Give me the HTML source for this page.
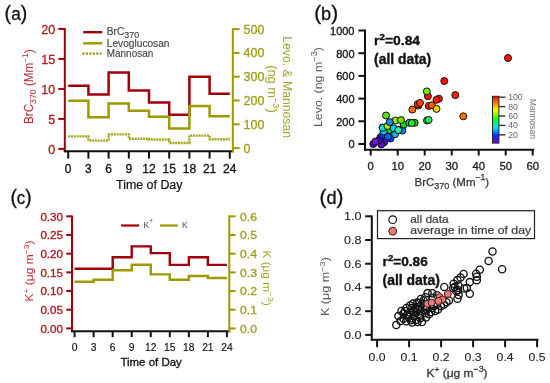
<!DOCTYPE html><html><head><meta charset="utf-8"><style>html,body{margin:0;padding:0;background:#fff;width:550px;height:383px;overflow:hidden}svg{display:block;will-change:transform}text{font-family:"Liberation Sans",sans-serif}</style></head><body>
<svg width="550" height="383" viewBox="0 0 550 383">
<rect width="550" height="383" fill="#fff"/>
<text x="4.6" y="19.6" font-size="17.5" fill="#111" stroke="#111" stroke-width="0.3" textLength="22.6" lengthAdjust="spacingAndGlyphs"><tspan font-size="20">(</tspan>a<tspan font-size="20">)</tspan></text>
<path d="M68.20,85.80 L88.40,85.80 L88.40,94.40 L108.60,94.40 L108.60,72.60 L128.80,72.60 L128.80,90.40 L149.00,90.40 L149.00,102.60 L169.20,102.60 L169.20,114.80 L189.40,114.80 L189.40,76.70 L209.60,76.70 L209.60,93.70 L229.80,93.70" fill="none" stroke="#a0000a" stroke-width="2.5" stroke-linejoin="miter" stroke-linecap="butt"/>
<path d="M68.20,100.70 L88.40,100.70 L88.40,117.20 L108.60,117.20 L108.60,103.40 L128.80,103.40 L128.80,110.80 L149.00,110.80 L149.00,116.70 L169.20,116.70 L169.20,128.40 L189.40,128.40 L189.40,106.10 L209.60,106.10 L209.60,116.20 L229.80,116.20" fill="none" stroke="#9c9a00" stroke-width="2.5" stroke-linejoin="miter" stroke-linecap="butt"/>
<path d="M68.20,136.40 L88.40,136.40 L88.40,140.60 L108.60,140.60 L108.60,134.40 L128.80,134.40 L128.80,138.80 L149.00,138.80 L149.00,139.50 L169.20,139.50 L169.20,143.00 L189.40,143.00 L189.40,135.60 L209.60,135.60 L209.60,139.30 L229.80,139.30" fill="none" stroke="#a2a614" stroke-width="2.4" stroke-linejoin="miter" stroke-linecap="butt" stroke-dasharray="2.0,0.8"/>
<line x1="83.20" y1="32.20" x2="102.30" y2="32.20" stroke="#a0000a" stroke-width="2.4" />
<line x1="83.20" y1="43.30" x2="102.30" y2="43.30" stroke="#9c9a00" stroke-width="2.4" />
<line x1="82.30" y1="53.60" x2="101.50" y2="53.60" stroke="#9a9a00" stroke-width="2.4" stroke-dasharray="2.2,1.3"/>
<text x="106.8" y="34.6" font-size="10.2" fill="#444" stroke="#444" stroke-width="0.15">BrC<tspan font-size="8.8" dy="3">370</tspan></text>
<text x="106.80" y="46.80" font-size="10.2" fill="#444" text-anchor="start" font-weight="normal" textLength="62.7" lengthAdjust="spacingAndGlyphs" stroke="#444" stroke-width="0.15">Levoglucosan</text>
<text x="106.80" y="56.70" font-size="10.2" fill="#444" text-anchor="start" font-weight="normal" textLength="46.4" lengthAdjust="spacingAndGlyphs" stroke="#444" stroke-width="0.15">Mannosan</text>
<line x1="64.80" y1="28.00" x2="64.80" y2="152.30" stroke="#a0000a" stroke-width="2" />
<line x1="58.30" y1="148.90" x2="64.80" y2="148.90" stroke="#a0000a" stroke-width="2" />
<text x="55.20" y="153.50" font-size="12.5" fill="#b3151b" text-anchor="end" font-weight="normal" stroke="#b3151b" stroke-width="0.3">0</text>
<line x1="58.30" y1="118.90" x2="64.80" y2="118.90" stroke="#a0000a" stroke-width="2" />
<text x="55.20" y="123.50" font-size="12.5" fill="#b3151b" text-anchor="end" font-weight="normal" stroke="#b3151b" stroke-width="0.3">5</text>
<line x1="58.30" y1="88.90" x2="64.80" y2="88.90" stroke="#a0000a" stroke-width="2" />
<text x="55.20" y="93.50" font-size="12.5" fill="#b3151b" text-anchor="end" font-weight="normal" stroke="#b3151b" stroke-width="0.3">10</text>
<line x1="58.30" y1="58.90" x2="64.80" y2="58.90" stroke="#a0000a" stroke-width="2" />
<text x="55.20" y="63.50" font-size="12.5" fill="#b3151b" text-anchor="end" font-weight="normal" stroke="#b3151b" stroke-width="0.3">15</text>
<line x1="58.30" y1="28.90" x2="64.80" y2="28.90" stroke="#a0000a" stroke-width="2" />
<text x="55.20" y="33.50" font-size="12.5" fill="#b3151b" text-anchor="end" font-weight="normal" stroke="#b3151b" stroke-width="0.3">20</text>
<line x1="63.80" y1="151.30" x2="233.80" y2="151.30" stroke="#111111" stroke-width="2" />
<line x1="68.20" y1="151.30" x2="68.20" y2="158.60" stroke="#111111" stroke-width="2" />
<text x="68.20" y="172.90" font-size="12.0" fill="#111111" text-anchor="middle" font-weight="normal" stroke="#111111" stroke-width="0.3">0</text>
<line x1="88.40" y1="151.30" x2="88.40" y2="158.60" stroke="#111111" stroke-width="2" />
<text x="88.40" y="172.90" font-size="12.0" fill="#111111" text-anchor="middle" font-weight="normal" stroke="#111111" stroke-width="0.3">3</text>
<line x1="108.60" y1="151.30" x2="108.60" y2="158.60" stroke="#111111" stroke-width="2" />
<text x="108.60" y="172.90" font-size="12.0" fill="#111111" text-anchor="middle" font-weight="normal" stroke="#111111" stroke-width="0.3">6</text>
<line x1="128.80" y1="151.30" x2="128.80" y2="158.60" stroke="#111111" stroke-width="2" />
<text x="128.80" y="172.90" font-size="12.0" fill="#111111" text-anchor="middle" font-weight="normal" stroke="#111111" stroke-width="0.3">9</text>
<line x1="149.00" y1="151.30" x2="149.00" y2="158.60" stroke="#111111" stroke-width="2" />
<text x="149.00" y="172.90" font-size="12.0" fill="#111111" text-anchor="middle" font-weight="normal" stroke="#111111" stroke-width="0.3">12</text>
<line x1="169.20" y1="151.30" x2="169.20" y2="158.60" stroke="#111111" stroke-width="2" />
<text x="169.20" y="172.90" font-size="12.0" fill="#111111" text-anchor="middle" font-weight="normal" stroke="#111111" stroke-width="0.3">15</text>
<line x1="189.40" y1="151.30" x2="189.40" y2="158.60" stroke="#111111" stroke-width="2" />
<text x="189.40" y="172.90" font-size="12.0" fill="#111111" text-anchor="middle" font-weight="normal" stroke="#111111" stroke-width="0.3">18</text>
<line x1="209.60" y1="151.30" x2="209.60" y2="158.60" stroke="#111111" stroke-width="2" />
<text x="209.60" y="172.90" font-size="12.0" fill="#111111" text-anchor="middle" font-weight="normal" stroke="#111111" stroke-width="0.3">21</text>
<line x1="229.80" y1="151.30" x2="229.80" y2="158.60" stroke="#111111" stroke-width="2" />
<text x="229.80" y="172.90" font-size="12.0" fill="#111111" text-anchor="middle" font-weight="normal" stroke="#111111" stroke-width="0.3">24</text>
<text x="116.00" y="188.50" font-size="12" fill="#111111" text-anchor="start" font-weight="normal" textLength="66.5" lengthAdjust="spacingAndGlyphs" stroke="#111111" stroke-width="0.2">Time of Day</text>
<line x1="232.80" y1="28.20" x2="232.80" y2="152.30" stroke="#9c9a00" stroke-width="2" />
<line x1="232.80" y1="148.10" x2="239.60" y2="148.10" stroke="#9c9a00" stroke-width="2" />
<text x="243.50" y="152.50" font-size="12.5" fill="#9fa018" text-anchor="start" font-weight="normal" stroke="#9fa018" stroke-width="0.3">0</text>
<line x1="232.80" y1="124.30" x2="239.60" y2="124.30" stroke="#9c9a00" stroke-width="2" />
<text x="243.50" y="128.70" font-size="12.5" fill="#9fa018" text-anchor="start" font-weight="normal" stroke="#9fa018" stroke-width="0.3">100</text>
<line x1="232.80" y1="100.50" x2="239.60" y2="100.50" stroke="#9c9a00" stroke-width="2" />
<text x="243.50" y="104.90" font-size="12.5" fill="#9fa018" text-anchor="start" font-weight="normal" stroke="#9fa018" stroke-width="0.3">200</text>
<line x1="232.80" y1="76.70" x2="239.60" y2="76.70" stroke="#9c9a00" stroke-width="2" />
<text x="243.50" y="81.10" font-size="12.5" fill="#9fa018" text-anchor="start" font-weight="normal" stroke="#9fa018" stroke-width="0.3">300</text>
<line x1="232.80" y1="52.90" x2="239.60" y2="52.90" stroke="#9c9a00" stroke-width="2" />
<text x="243.50" y="57.30" font-size="12.5" fill="#9fa018" text-anchor="start" font-weight="normal" stroke="#9fa018" stroke-width="0.3">400</text>
<line x1="232.80" y1="29.10" x2="239.60" y2="29.10" stroke="#9c9a00" stroke-width="2" />
<text x="243.50" y="33.50" font-size="12.5" fill="#9fa018" text-anchor="start" font-weight="normal" stroke="#9fa018" stroke-width="0.3">500</text>
<text transform="translate(33.3,124) rotate(-90)" font-size="12" fill="#bb2a2e" textLength="74.6" lengthAdjust="spacingAndGlyphs">BrC<tspan font-size="9" dy="2.8">370</tspan><tspan dy="-2.8"> (Mm</tspan><tspan font-size="8.5" dy="-5">−1</tspan><tspan dy="5">)</tspan></text>
<text transform="translate(283.1,36.3) rotate(90)" font-size="12" fill="#a4a42c" textLength="101.7" lengthAdjust="spacingAndGlyphs">Levo. &amp; Mannosan</text>
<text transform="translate(267.5,65.2) rotate(90)" font-size="12" fill="#a4a42c" textLength="47.5" lengthAdjust="spacingAndGlyphs">(ng m<tspan font-size="8.5" dy="-5">−3</tspan><tspan dy="5">)</tspan></text>
<text x="314.2" y="19.5" font-size="17.5" fill="#111" stroke="#111" stroke-width="0.3" textLength="24.0" lengthAdjust="spacingAndGlyphs"><tspan font-size="20">(</tspan>b<tspan font-size="20">)</tspan></text>
<line x1="365.00" y1="29.50" x2="365.00" y2="150.70" stroke="#111111" stroke-width="2" />
<line x1="358.40" y1="144.00" x2="365.00" y2="144.00" stroke="#111111" stroke-width="2" />
<text x="354.50" y="148.30" font-size="11.0" fill="#1a1a1a" text-anchor="end" font-weight="normal" stroke="#1a1a1a" stroke-width="0.35">0</text>
<line x1="358.40" y1="121.30" x2="365.00" y2="121.30" stroke="#111111" stroke-width="2" />
<text x="354.50" y="125.60" font-size="11.0" fill="#1a1a1a" text-anchor="end" font-weight="normal" stroke="#1a1a1a" stroke-width="0.35">200</text>
<line x1="358.40" y1="98.60" x2="365.00" y2="98.60" stroke="#111111" stroke-width="2" />
<text x="354.50" y="102.90" font-size="11.0" fill="#1a1a1a" text-anchor="end" font-weight="normal" stroke="#1a1a1a" stroke-width="0.35">400</text>
<line x1="358.40" y1="75.90" x2="365.00" y2="75.90" stroke="#111111" stroke-width="2" />
<text x="354.50" y="80.20" font-size="11.0" fill="#1a1a1a" text-anchor="end" font-weight="normal" stroke="#1a1a1a" stroke-width="0.35">600</text>
<line x1="358.40" y1="53.20" x2="365.00" y2="53.20" stroke="#111111" stroke-width="2" />
<text x="354.50" y="57.50" font-size="11.0" fill="#1a1a1a" text-anchor="end" font-weight="normal" stroke="#1a1a1a" stroke-width="0.35">800</text>
<line x1="358.40" y1="30.50" x2="365.00" y2="30.50" stroke="#111111" stroke-width="2" />
<text x="354.50" y="34.80" font-size="11.0" fill="#1a1a1a" text-anchor="end" font-weight="normal" stroke="#1a1a1a" stroke-width="0.35">1000</text>
<line x1="364.00" y1="149.70" x2="534.20" y2="149.70" stroke="#111111" stroke-width="2" />
<line x1="370.70" y1="149.70" x2="370.70" y2="155.50" stroke="#111111" stroke-width="2" />
<text x="370.70" y="169.90" font-size="11.3" fill="#1a1a1a" text-anchor="middle" font-weight="normal" stroke="#1a1a1a" stroke-width="0.3">0</text>
<line x1="397.70" y1="149.70" x2="397.70" y2="155.50" stroke="#111111" stroke-width="2" />
<text x="397.70" y="169.90" font-size="11.3" fill="#1a1a1a" text-anchor="middle" font-weight="normal" stroke="#1a1a1a" stroke-width="0.3">10</text>
<line x1="424.70" y1="149.70" x2="424.70" y2="155.50" stroke="#111111" stroke-width="2" />
<text x="424.70" y="169.90" font-size="11.3" fill="#1a1a1a" text-anchor="middle" font-weight="normal" stroke="#1a1a1a" stroke-width="0.3">20</text>
<line x1="451.70" y1="149.70" x2="451.70" y2="155.50" stroke="#111111" stroke-width="2" />
<text x="451.70" y="169.90" font-size="11.3" fill="#1a1a1a" text-anchor="middle" font-weight="normal" stroke="#1a1a1a" stroke-width="0.3">30</text>
<line x1="478.70" y1="149.70" x2="478.70" y2="155.50" stroke="#111111" stroke-width="2" />
<text x="478.70" y="169.90" font-size="11.3" fill="#1a1a1a" text-anchor="middle" font-weight="normal" stroke="#1a1a1a" stroke-width="0.3">40</text>
<line x1="505.70" y1="149.70" x2="505.70" y2="155.50" stroke="#111111" stroke-width="2" />
<text x="505.70" y="169.90" font-size="11.3" fill="#1a1a1a" text-anchor="middle" font-weight="normal" stroke="#1a1a1a" stroke-width="0.3">50</text>
<line x1="532.70" y1="149.70" x2="532.70" y2="155.50" stroke="#111111" stroke-width="2" />
<text x="532.70" y="169.90" font-size="11.3" fill="#1a1a1a" text-anchor="middle" font-weight="normal" stroke="#1a1a1a" stroke-width="0.3">60</text>
<text x="414.5" y="185.5" font-size="11.4" fill="#333" stroke="#333" stroke-width="0.25" textLength="74.5" lengthAdjust="spacingAndGlyphs">BrC<tspan font-size="9" dy="3">370</tspan><tspan dy="-3"> (Mm</tspan><tspan font-size="8.5" dy="-5.5">−1</tspan><tspan dy="5.5">)</tspan></text>
<text transform="translate(322,127.0) rotate(-90)" font-size="11.2" fill="#5a5a5a" textLength="80.0" lengthAdjust="spacingAndGlyphs">Levo. (ng m<tspan font-size="8.5" dy="-5">−3</tspan><tspan dy="5">)</tspan></text>
<text x="374.1" y="44.9" font-size="13.5" font-weight="bold" fill="#111" stroke="#111" stroke-width="0.35" textLength="46" lengthAdjust="spacingAndGlyphs">r<tspan font-size="9.5" dy="-5">2</tspan><tspan dy="5">=0.84</tspan></text>
<text x="374.10" y="63.90" font-size="14" fill="#111" text-anchor="start" font-weight="bold" textLength="57" lengthAdjust="spacingAndGlyphs" stroke="#111" stroke-width="0.35">(all data)</text>
<defs><linearGradient id="rb" x1="0" y1="1" x2="0" y2="0"><stop offset="0" stop-color="#7a00ff"/><stop offset="0.16" stop-color="#0030ff"/><stop offset="0.32" stop-color="#00e0ff"/><stop offset="0.5" stop-color="#00ff20"/><stop offset="0.7" stop-color="#f0ff00"/><stop offset="0.85" stop-color="#ff8000"/><stop offset="1" stop-color="#ff0000"/></linearGradient></defs>
<rect x="492.5" y="96.3" width="6.4" height="46.8" fill="url(#rb)" stroke="#222" stroke-width="1"/>
<line x1="498.90" y1="97.20" x2="505.40" y2="97.20" stroke="#333" stroke-width="1.4" />
<text x="508.20" y="100.20" font-size="8.7" fill="#666" text-anchor="start" font-weight="normal">100</text>
<line x1="498.90" y1="106.60" x2="505.40" y2="106.60" stroke="#333" stroke-width="1.4" />
<text x="508.20" y="109.60" font-size="8.7" fill="#666" text-anchor="start" font-weight="normal">80</text>
<line x1="498.90" y1="116.00" x2="505.40" y2="116.00" stroke="#333" stroke-width="1.4" />
<text x="508.20" y="119.00" font-size="8.7" fill="#666" text-anchor="start" font-weight="normal">60</text>
<line x1="498.90" y1="125.40" x2="505.40" y2="125.40" stroke="#333" stroke-width="1.4" />
<text x="508.20" y="128.40" font-size="8.7" fill="#666" text-anchor="start" font-weight="normal">40</text>
<line x1="498.90" y1="134.80" x2="505.40" y2="134.80" stroke="#333" stroke-width="1.4" />
<text x="508.20" y="137.80" font-size="8.7" fill="#666" text-anchor="start" font-weight="normal">20</text>
<text transform="translate(529.6,98.8) rotate(90)" font-size="8.6" fill="#777" textLength="40.2" lengthAdjust="spacingAndGlyphs">Mannosan</text>
<circle cx="382.6" cy="127.5" r="3.5" fill="#00e8f0" stroke="#111" stroke-width="1"/>
<circle cx="384.8" cy="131.3" r="3.5" fill="#00d8f0" stroke="#111" stroke-width="1"/>
<circle cx="393.5" cy="128.8" r="3.5" fill="#00e0f0" stroke="#111" stroke-width="1"/>
<circle cx="394.2" cy="133.1" r="3.5" fill="#10c0ff" stroke="#111" stroke-width="1"/>
<circle cx="389.5" cy="130.0" r="3.5" fill="#20d020" stroke="#111" stroke-width="1"/>
<circle cx="380.4" cy="137.5" r="3.5" fill="#3010e0" stroke="#111" stroke-width="1"/>
<circle cx="382.3" cy="135.6" r="3.5" fill="#1030f0" stroke="#111" stroke-width="1"/>
<circle cx="390.5" cy="138.5" r="3.5" fill="#0040ff" stroke="#111" stroke-width="1"/>
<circle cx="384.2" cy="142.2" r="3.5" fill="#5000d0" stroke="#111" stroke-width="1"/>
<circle cx="381.3" cy="144.4" r="3.5" fill="#6000c8" stroke="#111" stroke-width="1"/>
<circle cx="373.3" cy="144.0" r="3.5" fill="#5800d0" stroke="#111" stroke-width="1"/>
<circle cx="378.5" cy="140.5" r="3.5" fill="#5000d0" stroke="#111" stroke-width="1"/>
<circle cx="386.0" cy="115.5" r="3.5" fill="#60e000" stroke="#111" stroke-width="1"/>
<circle cx="383.7" cy="131.4" r="3.5" fill="#00d0e0" stroke="#111" stroke-width="1"/>
<circle cx="382.8" cy="127.8" r="3.5" fill="#00e0e8" stroke="#111" stroke-width="1"/>
<circle cx="387.4" cy="126.0" r="3.5" fill="#a0f000" stroke="#111" stroke-width="1"/>
<circle cx="395.1" cy="134.2" r="3.5" fill="#10b8ff" stroke="#111" stroke-width="1"/>
<circle cx="393.7" cy="128.3" r="3.5" fill="#00d8f0" stroke="#111" stroke-width="1"/>
<circle cx="402.3" cy="130.6" r="3.5" fill="#0090ff" stroke="#111" stroke-width="1"/>
<circle cx="395.5" cy="120.5" r="3.5" fill="#90e800" stroke="#111" stroke-width="1"/>
<circle cx="403.7" cy="124.6" r="3.5" fill="#20d020" stroke="#111" stroke-width="1"/>
<circle cx="414.7" cy="122.8" r="3.5" fill="#20d000" stroke="#111" stroke-width="1"/>
<circle cx="409.2" cy="122.8" r="3.5" fill="#00e060" stroke="#111" stroke-width="1"/>
<circle cx="401.0" cy="120.1" r="3.5" fill="#70e000" stroke="#111" stroke-width="1"/>
<circle cx="398.7" cy="129.7" r="3.5" fill="#30e8b8" stroke="#111" stroke-width="1"/>
<circle cx="398.3" cy="130.1" r="3.5" fill="#30e8b0" stroke="#111" stroke-width="1"/>
<circle cx="387.9" cy="136.9" r="3.5" fill="#0060ff" stroke="#111" stroke-width="1"/>
<circle cx="389.7" cy="122.1" r="3.5" fill="#1090ff" stroke="#111" stroke-width="1"/>
<circle cx="375.4" cy="141.6" r="3.5" fill="#7010f0" stroke="#111" stroke-width="1"/>
<circle cx="412.4" cy="109.6" r="3.5" fill="#ff7000" stroke="#111" stroke-width="1"/>
<circle cx="418.3" cy="105.5" r="3.5" fill="#ff2000" stroke="#111" stroke-width="1"/>
<circle cx="417.7" cy="104.2" r="3.5" fill="#ff2800" stroke="#111" stroke-width="1"/>
<circle cx="420.0" cy="102.9" r="3.5" fill="#ff4000" stroke="#111" stroke-width="1"/>
<circle cx="428.8" cy="105.9" r="3.5" fill="#ff2000" stroke="#111" stroke-width="1"/>
<circle cx="427.0" cy="120.5" r="3.5" fill="#30e030" stroke="#111" stroke-width="1"/>
<circle cx="427.9" cy="96.2" r="3.5" fill="#ff1000" stroke="#111" stroke-width="1"/>
<circle cx="438.9" cy="98.7" r="3.5" fill="#ff2000" stroke="#111" stroke-width="1"/>
<circle cx="436.5" cy="99.8" r="3.5" fill="#ff1800" stroke="#111" stroke-width="1"/>
<circle cx="431.9" cy="105.3" r="3.5" fill="#ff6000" stroke="#111" stroke-width="1"/>
<circle cx="436.5" cy="108.9" r="3.5" fill="#ffd000" stroke="#111" stroke-width="1"/>
<circle cx="444.3" cy="81.0" r="3.5" fill="#ff1000" stroke="#111" stroke-width="1"/>
<circle cx="455.3" cy="95.1" r="3.5" fill="#ff2000" stroke="#111" stroke-width="1"/>
<circle cx="463.3" cy="116.3" r="3.5" fill="#ff7000" stroke="#111" stroke-width="1"/>
<circle cx="508.0" cy="58.0" r="3.5" fill="#ff1000" stroke="#111" stroke-width="1"/>
<circle cx="428.6" cy="119.9" r="3.5" fill="#20f060" stroke="#111" stroke-width="1"/>
<circle cx="411.8" cy="123.0" r="3.5" fill="#30e030" stroke="#111" stroke-width="1"/>
<circle cx="426.8" cy="91.4" r="3.5" fill="#70f000" stroke="#111" stroke-width="1"/>
<text x="10.4" y="203.5" font-size="17.5" fill="#111" stroke="#111" stroke-width="0.3" textLength="21.2" lengthAdjust="spacingAndGlyphs"><tspan font-size="20">(</tspan>c<tspan font-size="20">)</tspan></text>
<path d="M74.60,268.70 L93.64,268.70 L93.64,268.70 L112.68,268.70 L112.68,257.20 L131.72,257.20 L131.72,246.40 L150.76,246.40 L150.76,253.10 L169.80,253.10 L169.80,264.90 L188.84,264.90 L188.84,257.20 L207.88,257.20 L207.88,264.90 L226.92,264.90" fill="none" stroke="#a0000a" stroke-width="2.4" stroke-linejoin="miter" stroke-linecap="butt"/>
<path d="M74.60,281.70 L93.64,281.70 L93.64,279.70 L112.68,279.70 L112.68,270.30 L131.72,270.30 L131.72,264.80 L150.76,264.80 L150.76,274.40 L169.80,274.40 L169.80,279.80 L188.84,279.80 L188.84,276.00 L207.88,276.00 L207.88,278.00 L226.92,278.00" fill="none" stroke="#9c9a00" stroke-width="2.4" stroke-linejoin="miter" stroke-linecap="butt"/>
<line x1="72.00" y1="215.50" x2="72.00" y2="332.30" stroke="#a0000a" stroke-width="2" />
<line x1="66.30" y1="328.40" x2="72.00" y2="328.40" stroke="#a0000a" stroke-width="2" />
<text x="63.00" y="332.70" font-size="10.6" fill="#b3151b" text-anchor="end" font-weight="normal" textLength="22.6" lengthAdjust="spacingAndGlyphs" stroke="#b3151b" stroke-width="0.3">0.00</text>
<line x1="66.30" y1="309.72" x2="72.00" y2="309.72" stroke="#a0000a" stroke-width="2" />
<text x="63.00" y="314.02" font-size="10.6" fill="#b3151b" text-anchor="end" font-weight="normal" textLength="22.6" lengthAdjust="spacingAndGlyphs" stroke="#b3151b" stroke-width="0.3">0.05</text>
<line x1="66.30" y1="291.04" x2="72.00" y2="291.04" stroke="#a0000a" stroke-width="2" />
<text x="63.00" y="295.34" font-size="10.6" fill="#b3151b" text-anchor="end" font-weight="normal" textLength="22.6" lengthAdjust="spacingAndGlyphs" stroke="#b3151b" stroke-width="0.3">0.10</text>
<line x1="66.30" y1="272.36" x2="72.00" y2="272.36" stroke="#a0000a" stroke-width="2" />
<text x="63.00" y="276.66" font-size="10.6" fill="#b3151b" text-anchor="end" font-weight="normal" textLength="22.6" lengthAdjust="spacingAndGlyphs" stroke="#b3151b" stroke-width="0.3">0.15</text>
<line x1="66.30" y1="253.68" x2="72.00" y2="253.68" stroke="#a0000a" stroke-width="2" />
<text x="63.00" y="257.98" font-size="10.6" fill="#b3151b" text-anchor="end" font-weight="normal" textLength="22.6" lengthAdjust="spacingAndGlyphs" stroke="#b3151b" stroke-width="0.3">0.20</text>
<line x1="66.30" y1="235.00" x2="72.00" y2="235.00" stroke="#a0000a" stroke-width="2" />
<text x="63.00" y="239.30" font-size="10.6" fill="#b3151b" text-anchor="end" font-weight="normal" textLength="22.6" lengthAdjust="spacingAndGlyphs" stroke="#b3151b" stroke-width="0.3">0.25</text>
<line x1="66.30" y1="216.32" x2="72.00" y2="216.32" stroke="#a0000a" stroke-width="2" />
<text x="63.00" y="220.62" font-size="10.6" fill="#b3151b" text-anchor="end" font-weight="normal" textLength="22.6" lengthAdjust="spacingAndGlyphs" stroke="#b3151b" stroke-width="0.3">0.30</text>
<line x1="71.00" y1="331.30" x2="230.30" y2="331.30" stroke="#111111" stroke-width="2" />
<line x1="74.60" y1="331.30" x2="74.60" y2="337.20" stroke="#111111" stroke-width="2" />
<text x="74.60" y="350.50" font-size="10.3" fill="#111111" text-anchor="middle" font-weight="normal" stroke="#111111" stroke-width="0.15">0</text>
<line x1="93.64" y1="331.30" x2="93.64" y2="337.20" stroke="#111111" stroke-width="2" />
<text x="93.64" y="350.50" font-size="10.3" fill="#111111" text-anchor="middle" font-weight="normal" stroke="#111111" stroke-width="0.15">3</text>
<line x1="112.68" y1="331.30" x2="112.68" y2="337.20" stroke="#111111" stroke-width="2" />
<text x="112.68" y="350.50" font-size="10.3" fill="#111111" text-anchor="middle" font-weight="normal" stroke="#111111" stroke-width="0.15">6</text>
<line x1="131.72" y1="331.30" x2="131.72" y2="337.20" stroke="#111111" stroke-width="2" />
<text x="131.72" y="350.50" font-size="10.3" fill="#111111" text-anchor="middle" font-weight="normal" stroke="#111111" stroke-width="0.15">9</text>
<line x1="150.76" y1="331.30" x2="150.76" y2="337.20" stroke="#111111" stroke-width="2" />
<text x="150.76" y="350.50" font-size="10.3" fill="#111111" text-anchor="middle" font-weight="normal" stroke="#111111" stroke-width="0.15">12</text>
<line x1="169.80" y1="331.30" x2="169.80" y2="337.20" stroke="#111111" stroke-width="2" />
<text x="169.80" y="350.50" font-size="10.3" fill="#111111" text-anchor="middle" font-weight="normal" stroke="#111111" stroke-width="0.15">15</text>
<line x1="188.84" y1="331.30" x2="188.84" y2="337.20" stroke="#111111" stroke-width="2" />
<text x="188.84" y="350.50" font-size="10.3" fill="#111111" text-anchor="middle" font-weight="normal" stroke="#111111" stroke-width="0.15">18</text>
<line x1="207.88" y1="331.30" x2="207.88" y2="337.20" stroke="#111111" stroke-width="2" />
<text x="207.88" y="350.50" font-size="10.3" fill="#111111" text-anchor="middle" font-weight="normal" stroke="#111111" stroke-width="0.15">21</text>
<line x1="226.92" y1="331.30" x2="226.92" y2="337.20" stroke="#111111" stroke-width="2" />
<text x="226.92" y="350.50" font-size="10.3" fill="#111111" text-anchor="middle" font-weight="normal" stroke="#111111" stroke-width="0.15">24</text>
<text x="120.40" y="366.40" font-size="10.5" fill="#111111" text-anchor="start" font-weight="normal" textLength="61.4" lengthAdjust="spacingAndGlyphs" stroke="#111111" stroke-width="0.3">Time of Day</text>
<line x1="229.30" y1="215.50" x2="229.30" y2="332.30" stroke="#9c9a00" stroke-width="2" />
<line x1="229.30" y1="328.40" x2="235.60" y2="328.40" stroke="#9c9a00" stroke-width="2" />
<text x="240.00" y="332.70" font-size="10.6" fill="#9fa018" text-anchor="start" font-weight="normal" textLength="17" lengthAdjust="spacingAndGlyphs" stroke="#9fa018" stroke-width="0.3">0.0</text>
<line x1="229.30" y1="309.72" x2="235.60" y2="309.72" stroke="#9c9a00" stroke-width="2" />
<text x="240.00" y="314.02" font-size="10.6" fill="#9fa018" text-anchor="start" font-weight="normal" textLength="17" lengthAdjust="spacingAndGlyphs" stroke="#9fa018" stroke-width="0.3">0.1</text>
<line x1="229.30" y1="291.04" x2="235.60" y2="291.04" stroke="#9c9a00" stroke-width="2" />
<text x="240.00" y="295.34" font-size="10.6" fill="#9fa018" text-anchor="start" font-weight="normal" textLength="17" lengthAdjust="spacingAndGlyphs" stroke="#9fa018" stroke-width="0.3">0.2</text>
<line x1="229.30" y1="272.36" x2="235.60" y2="272.36" stroke="#9c9a00" stroke-width="2" />
<text x="240.00" y="276.66" font-size="10.6" fill="#9fa018" text-anchor="start" font-weight="normal" textLength="17" lengthAdjust="spacingAndGlyphs" stroke="#9fa018" stroke-width="0.3">0.3</text>
<line x1="229.30" y1="253.68" x2="235.60" y2="253.68" stroke="#9c9a00" stroke-width="2" />
<text x="240.00" y="257.98" font-size="10.6" fill="#9fa018" text-anchor="start" font-weight="normal" textLength="17" lengthAdjust="spacingAndGlyphs" stroke="#9fa018" stroke-width="0.3">0.4</text>
<line x1="229.30" y1="235.00" x2="235.60" y2="235.00" stroke="#9c9a00" stroke-width="2" />
<text x="240.00" y="239.30" font-size="10.6" fill="#9fa018" text-anchor="start" font-weight="normal" textLength="17" lengthAdjust="spacingAndGlyphs" stroke="#9fa018" stroke-width="0.3">0.5</text>
<line x1="229.30" y1="216.32" x2="235.60" y2="216.32" stroke="#9c9a00" stroke-width="2" />
<text x="240.00" y="220.62" font-size="10.6" fill="#9fa018" text-anchor="start" font-weight="normal" textLength="17" lengthAdjust="spacingAndGlyphs" stroke="#9fa018" stroke-width="0.3">0.6</text>
<line x1="121.10" y1="225.50" x2="139.10" y2="225.50" stroke="#a0000a" stroke-width="2.2" />
<line x1="160.00" y1="225.50" x2="177.90" y2="225.50" stroke="#9c9a00" stroke-width="2.2" />
<text x="143.6" y="227.9" font-size="8.4" fill="#4a4a4a">K<tspan font-size="6.5" dy="-4.5">+</tspan></text>
<text x="182.00" y="227.90" font-size="8.4" fill="#4a4a4a" text-anchor="start" font-weight="normal">K</text>
<text transform="translate(33,301.5) rotate(-90)" font-size="11" fill="#bb2a2e" textLength="61" lengthAdjust="spacingAndGlyphs">K<tspan font-size="8" dy="-4.5">+</tspan><tspan dy="4.5"> (μg m</tspan><tspan font-size="8" dy="-4.5">−3</tspan><tspan dy="4.5">)</tspan></text>
<text transform="translate(263.3,250.6) rotate(90)" font-size="11" fill="#a4a42c" textLength="55" lengthAdjust="spacingAndGlyphs">K (μg m<tspan font-size="8" dy="-4.5">−3</tspan><tspan dy="4.5">)</tspan></text>
<text x="319.5" y="203.8" font-size="17.5" fill="#111" stroke="#111" stroke-width="0.3" textLength="24.0" lengthAdjust="spacingAndGlyphs"><tspan font-size="20">(</tspan>d<tspan font-size="20">)</tspan></text>
<line x1="371.80" y1="215.50" x2="371.80" y2="340.80" stroke="#111111" stroke-width="2" />
<line x1="365.20" y1="334.90" x2="371.80" y2="334.90" stroke="#111111" stroke-width="2" />
<text x="361.50" y="338.80" font-size="10.5" fill="#222" text-anchor="end" font-weight="normal" textLength="17.6" lengthAdjust="spacingAndGlyphs" stroke="#222" stroke-width="0.1">0.0</text>
<line x1="365.20" y1="311.18" x2="371.80" y2="311.18" stroke="#111111" stroke-width="2" />
<text x="361.50" y="315.08" font-size="10.5" fill="#222" text-anchor="end" font-weight="normal" textLength="17.6" lengthAdjust="spacingAndGlyphs" stroke="#222" stroke-width="0.1">0.2</text>
<line x1="365.20" y1="287.46" x2="371.80" y2="287.46" stroke="#111111" stroke-width="2" />
<text x="361.50" y="291.36" font-size="10.5" fill="#222" text-anchor="end" font-weight="normal" textLength="17.6" lengthAdjust="spacingAndGlyphs" stroke="#222" stroke-width="0.1">0.4</text>
<line x1="365.20" y1="263.74" x2="371.80" y2="263.74" stroke="#111111" stroke-width="2" />
<text x="361.50" y="267.64" font-size="10.5" fill="#222" text-anchor="end" font-weight="normal" textLength="17.6" lengthAdjust="spacingAndGlyphs" stroke="#222" stroke-width="0.1">0.6</text>
<line x1="365.20" y1="240.02" x2="371.80" y2="240.02" stroke="#111111" stroke-width="2" />
<text x="361.50" y="243.92" font-size="10.5" fill="#222" text-anchor="end" font-weight="normal" textLength="17.6" lengthAdjust="spacingAndGlyphs" stroke="#222" stroke-width="0.1">0.8</text>
<line x1="365.20" y1="216.30" x2="371.80" y2="216.30" stroke="#111111" stroke-width="2" />
<text x="361.50" y="220.20" font-size="10.5" fill="#222" text-anchor="end" font-weight="normal" textLength="17.6" lengthAdjust="spacingAndGlyphs" stroke="#222" stroke-width="0.1">1.0</text>
<line x1="370.80" y1="339.80" x2="538.40" y2="339.80" stroke="#111111" stroke-width="2" />
<line x1="377.10" y1="339.80" x2="377.10" y2="347.20" stroke="#111111" stroke-width="2" />
<text x="377.10" y="361.20" font-size="11.0" fill="#222" text-anchor="middle" font-weight="normal" textLength="17.0" lengthAdjust="spacingAndGlyphs" stroke="#222" stroke-width="0.1">0.0</text>
<line x1="409.10" y1="339.80" x2="409.10" y2="347.20" stroke="#111111" stroke-width="2" />
<text x="409.10" y="361.20" font-size="11.0" fill="#222" text-anchor="middle" font-weight="normal" textLength="17.0" lengthAdjust="spacingAndGlyphs" stroke="#222" stroke-width="0.1">0.1</text>
<line x1="441.10" y1="339.80" x2="441.10" y2="347.20" stroke="#111111" stroke-width="2" />
<text x="441.10" y="361.20" font-size="11.0" fill="#222" text-anchor="middle" font-weight="normal" textLength="17.0" lengthAdjust="spacingAndGlyphs" stroke="#222" stroke-width="0.1">0.2</text>
<line x1="473.10" y1="339.80" x2="473.10" y2="347.20" stroke="#111111" stroke-width="2" />
<text x="473.10" y="361.20" font-size="11.0" fill="#222" text-anchor="middle" font-weight="normal" textLength="17.0" lengthAdjust="spacingAndGlyphs" stroke="#222" stroke-width="0.1">0.3</text>
<line x1="505.10" y1="339.80" x2="505.10" y2="347.20" stroke="#111111" stroke-width="2" />
<text x="505.10" y="361.20" font-size="11.0" fill="#222" text-anchor="middle" font-weight="normal" textLength="17.0" lengthAdjust="spacingAndGlyphs" stroke="#222" stroke-width="0.1">0.4</text>
<line x1="537.10" y1="339.80" x2="537.10" y2="347.20" stroke="#111111" stroke-width="2" />
<text x="537.10" y="361.20" font-size="11.0" fill="#222" text-anchor="middle" font-weight="normal" textLength="17.0" lengthAdjust="spacingAndGlyphs" stroke="#222" stroke-width="0.1">0.5</text>
<text x="426.5" y="376.9" font-size="11.5" fill="#333" stroke="#333" stroke-width="0.3" textLength="61.1" lengthAdjust="spacingAndGlyphs">K<tspan font-size="8" dy="-5">+</tspan><tspan dy="5"> (μg m</tspan><tspan font-size="8.5" dy="-5">−3</tspan><tspan dy="5">)</tspan></text>
<text transform="translate(329.2,316.0) rotate(-90)" font-size="10.8" fill="#5a5a5a" textLength="59" lengthAdjust="spacingAndGlyphs">K (μg m<tspan font-size="8" dy="-4.5">−3</tspan><tspan dy="4.5">)</tspan></text>
<text x="382.6" y="265.6" font-size="13.5" font-weight="bold" fill="#111" stroke="#111" stroke-width="0.35" textLength="45.2" lengthAdjust="spacingAndGlyphs">r<tspan font-size="9.5" dy="-5">2</tspan><tspan dy="5">=0.86</tspan></text>
<text x="382.60" y="285.00" font-size="14" fill="#111" text-anchor="start" font-weight="bold" textLength="57.3" lengthAdjust="spacingAndGlyphs" stroke="#111" stroke-width="0.35">(all data)</text>
<circle cx="396.3" cy="325.0" r="3.6" fill="none" stroke="#111" stroke-width="1.35"/>
<circle cx="398.4" cy="316.1" r="3.6" fill="none" stroke="#111" stroke-width="1.35"/>
<circle cx="401.5" cy="310.9" r="3.6" fill="none" stroke="#111" stroke-width="1.35"/>
<circle cx="403.6" cy="318.7" r="3.6" fill="none" stroke="#111" stroke-width="1.35"/>
<circle cx="407.2" cy="315.1" r="3.6" fill="none" stroke="#111" stroke-width="1.35"/>
<circle cx="406.2" cy="321.3" r="3.6" fill="none" stroke="#111" stroke-width="1.35"/>
<circle cx="410.9" cy="320.3" r="3.6" fill="none" stroke="#111" stroke-width="1.35"/>
<circle cx="409.8" cy="312.5" r="3.6" fill="none" stroke="#111" stroke-width="1.35"/>
<circle cx="415.1" cy="307.8" r="3.6" fill="none" stroke="#111" stroke-width="1.35"/>
<circle cx="417.2" cy="302.5" r="3.6" fill="none" stroke="#111" stroke-width="1.35"/>
<circle cx="414.0" cy="316.1" r="3.6" fill="none" stroke="#111" stroke-width="1.35"/>
<circle cx="418.2" cy="314.0" r="3.6" fill="none" stroke="#111" stroke-width="1.35"/>
<circle cx="420.3" cy="318.2" r="3.6" fill="none" stroke="#111" stroke-width="1.35"/>
<circle cx="422.4" cy="303.6" r="3.6" fill="none" stroke="#111" stroke-width="1.35"/>
<circle cx="421.3" cy="310.9" r="3.6" fill="none" stroke="#111" stroke-width="1.35"/>
<circle cx="425.5" cy="313.0" r="3.6" fill="none" stroke="#111" stroke-width="1.35"/>
<circle cx="427.6" cy="293.1" r="3.6" fill="none" stroke="#111" stroke-width="1.35"/>
<circle cx="425.5" cy="297.3" r="3.6" fill="none" stroke="#111" stroke-width="1.35"/>
<circle cx="413.0" cy="303.6" r="3.6" fill="none" stroke="#111" stroke-width="1.35"/>
<circle cx="411.5" cy="308.0" r="3.6" fill="none" stroke="#111" stroke-width="1.35"/>
<circle cx="405.0" cy="311.0" r="3.6" fill="none" stroke="#111" stroke-width="1.35"/>
<circle cx="418.0" cy="309.0" r="3.6" fill="none" stroke="#111" stroke-width="1.35"/>
<circle cx="422.0" cy="322.0" r="3.6" fill="none" stroke="#111" stroke-width="1.35"/>
<circle cx="429.1" cy="314.2" r="3.6" fill="none" stroke="#111" stroke-width="1.35"/>
<circle cx="435.1" cy="311.0" r="3.6" fill="none" stroke="#111" stroke-width="1.35"/>
<circle cx="441.0" cy="306.0" r="3.6" fill="none" stroke="#111" stroke-width="1.35"/>
<circle cx="446.5" cy="302.3" r="3.6" fill="none" stroke="#111" stroke-width="1.35"/>
<circle cx="427.0" cy="307.0" r="3.6" fill="none" stroke="#111" stroke-width="1.35"/>
<circle cx="432.0" cy="308.0" r="3.6" fill="none" stroke="#111" stroke-width="1.35"/>
<circle cx="437.0" cy="304.0" r="3.6" fill="none" stroke="#111" stroke-width="1.35"/>
<circle cx="424.0" cy="306.0" r="3.6" fill="none" stroke="#111" stroke-width="1.35"/>
<circle cx="408.0" cy="317.0" r="3.6" fill="none" stroke="#111" stroke-width="1.35"/>
<circle cx="416.0" cy="320.0" r="3.6" fill="none" stroke="#111" stroke-width="1.35"/>
<circle cx="400.5" cy="321.0" r="3.6" fill="none" stroke="#111" stroke-width="1.35"/>
<circle cx="418.7" cy="303.0" r="3.6" fill="none" stroke="#111" stroke-width="1.35"/>
<circle cx="412.5" cy="318.5" r="3.6" fill="none" stroke="#111" stroke-width="1.35"/>
<circle cx="416.5" cy="311.5" r="3.6" fill="none" stroke="#111" stroke-width="1.35"/>
<circle cx="419.5" cy="306.5" r="3.6" fill="none" stroke="#111" stroke-width="1.35"/>
<circle cx="423.5" cy="300.5" r="3.6" fill="none" stroke="#111" stroke-width="1.35"/>
<circle cx="410.0" cy="305.5" r="3.6" fill="none" stroke="#111" stroke-width="1.35"/>
<circle cx="406.5" cy="308.0" r="3.6" fill="none" stroke="#111" stroke-width="1.35"/>
<circle cx="403.5" cy="313.5" r="3.6" fill="none" stroke="#111" stroke-width="1.35"/>
<circle cx="414.0" cy="312.0" r="3.6" fill="none" stroke="#111" stroke-width="1.35"/>
<circle cx="420.0" cy="315.5" r="3.6" fill="none" stroke="#111" stroke-width="1.35"/>
<circle cx="426.5" cy="309.5" r="3.6" fill="none" stroke="#111" stroke-width="1.35"/>
<circle cx="430.5" cy="304.5" r="3.6" fill="none" stroke="#111" stroke-width="1.35"/>
<circle cx="434.0" cy="306.0" r="3.6" fill="none" stroke="#111" stroke-width="1.35"/>
<circle cx="438.0" cy="309.5" r="3.6" fill="none" stroke="#111" stroke-width="1.35"/>
<circle cx="444.0" cy="304.5" r="3.6" fill="none" stroke="#111" stroke-width="1.35"/>
<circle cx="412.0" cy="322.5" r="3.6" fill="none" stroke="#111" stroke-width="1.35"/>
<circle cx="417.5" cy="322.0" r="3.6" fill="none" stroke="#111" stroke-width="1.35"/>
<circle cx="426.0" cy="317.5" r="3.6" fill="none" stroke="#111" stroke-width="1.35"/>
<circle cx="431.0" cy="312.0" r="3.6" fill="none" stroke="#111" stroke-width="1.35"/>
<circle cx="444.3" cy="286.9" r="3.6" fill="none" stroke="#111" stroke-width="1.35"/>
<circle cx="432.3" cy="293.2" r="3.6" fill="none" stroke="#111" stroke-width="1.35"/>
<circle cx="437.0" cy="295.3" r="3.6" fill="none" stroke="#111" stroke-width="1.35"/>
<circle cx="449.0" cy="300.5" r="3.6" fill="none" stroke="#111" stroke-width="1.35"/>
<circle cx="457.5" cy="298.7" r="3.6" fill="none" stroke="#111" stroke-width="1.35"/>
<circle cx="433.0" cy="298.0" r="3.6" fill="none" stroke="#111" stroke-width="1.35"/>
<circle cx="420.9" cy="299.0" r="3.6" fill="none" stroke="#111" stroke-width="1.35"/>
<circle cx="463.6" cy="273.9" r="3.6" fill="none" stroke="#111" stroke-width="1.35"/>
<circle cx="460.5" cy="277.5" r="3.6" fill="none" stroke="#111" stroke-width="1.35"/>
<circle cx="457.4" cy="280.1" r="3.6" fill="none" stroke="#111" stroke-width="1.35"/>
<circle cx="453.7" cy="283.8" r="3.6" fill="none" stroke="#111" stroke-width="1.35"/>
<circle cx="454.8" cy="286.9" r="3.6" fill="none" stroke="#111" stroke-width="1.35"/>
<circle cx="458.4" cy="285.4" r="3.6" fill="none" stroke="#111" stroke-width="1.35"/>
<circle cx="456.3" cy="291.1" r="3.6" fill="none" stroke="#111" stroke-width="1.35"/>
<circle cx="464.2" cy="288.5" r="3.6" fill="none" stroke="#111" stroke-width="1.35"/>
<circle cx="469.8" cy="282.1" r="3.6" fill="none" stroke="#111" stroke-width="1.35"/>
<circle cx="466.8" cy="288.0" r="3.6" fill="none" stroke="#111" stroke-width="1.35"/>
<circle cx="469.8" cy="293.8" r="3.6" fill="none" stroke="#111" stroke-width="1.35"/>
<circle cx="453.3" cy="287.9" r="3.6" fill="none" stroke="#111" stroke-width="1.35"/>
<circle cx="458.0" cy="290.3" r="3.6" fill="none" stroke="#111" stroke-width="1.35"/>
<circle cx="458.6" cy="295.0" r="3.6" fill="none" stroke="#111" stroke-width="1.35"/>
<circle cx="488.6" cy="260.9" r="3.6" fill="none" stroke="#111" stroke-width="1.35"/>
<circle cx="479.8" cy="269.7" r="3.6" fill="none" stroke="#111" stroke-width="1.35"/>
<circle cx="476.2" cy="273.8" r="3.6" fill="none" stroke="#111" stroke-width="1.35"/>
<circle cx="476.8" cy="276.8" r="3.6" fill="none" stroke="#111" stroke-width="1.35"/>
<circle cx="476.8" cy="280.3" r="3.6" fill="none" stroke="#111" stroke-width="1.35"/>
<circle cx="492.5" cy="251.5" r="3.6" fill="none" stroke="#111" stroke-width="1.35"/>
<circle cx="502.1" cy="269.3" r="3.6" fill="none" stroke="#111" stroke-width="1.35"/>
<circle cx="427.4" cy="303.8" r="3.5" fill="#f07a7a" stroke="#3a1a1a" stroke-width="1"/>
<circle cx="431.7" cy="302.6" r="3.5" fill="#f07a7a" stroke="#3a1a1a" stroke-width="1"/>
<circle cx="439.6" cy="297.1" r="3.5" fill="#f07a7a" stroke="#3a1a1a" stroke-width="1"/>
<circle cx="442.3" cy="299.5" r="3.5" fill="#f07a7a" stroke="#3a1a1a" stroke-width="1"/>
<circle cx="438.4" cy="301.0" r="3.5" fill="#f07a7a" stroke="#3a1a1a" stroke-width="1"/>
<circle cx="447.8" cy="294.0" r="3.5" fill="#f07a7a" stroke="#3a1a1a" stroke-width="1"/>
<rect x="377.5" y="210.7" width="157" height="27.9" fill="#fff" stroke="#222" stroke-width="1.2"/>
<circle cx="392.7" cy="219.7" r="3.8" fill="none" stroke="#111" stroke-width="1.2"/>
<circle cx="392.7" cy="231.2" r="3.9" fill="#f07a7a" stroke="#3a1a1a" stroke-width="1"/>
<text x="410.20" y="222.80" font-size="10.8" fill="#3a3a3a" text-anchor="start" font-weight="normal" textLength="38.5" lengthAdjust="spacingAndGlyphs" stroke="#3a3a3a" stroke-width="0.2">all data</text>
<text x="410.20" y="234.00" font-size="10.8" fill="#3a3a3a" text-anchor="start" font-weight="normal" textLength="121" lengthAdjust="spacingAndGlyphs" stroke="#3a3a3a" stroke-width="0.2">average in time of day</text>
</svg></body></html>
